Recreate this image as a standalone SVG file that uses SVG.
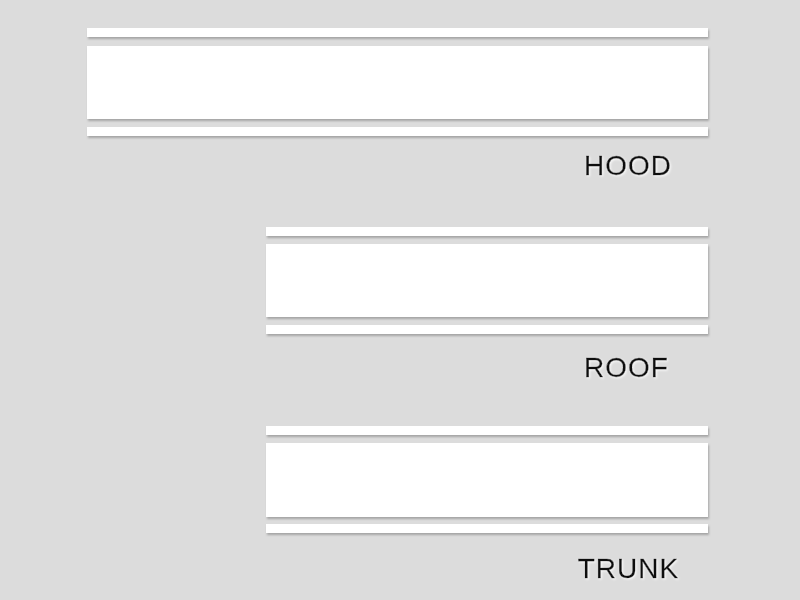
<svg xmlns="http://www.w3.org/2000/svg" width="800" height="600" viewBox="0 0 800 600">
<defs>
<filter id="sh" x="-5%" y="-50%" width="110%" height="200%">
<feDropShadow dx="1" dy="2" stdDeviation="1.2" flood-color="#000" flood-opacity="0.25"/>
</filter>
<filter id="tsh" x="-10%" y="-30%" width="120%" height="160%">
<feDropShadow dx="1" dy="1" stdDeviation="1" flood-color="#fff" flood-opacity="0.9"/>
</filter>
</defs>
<style>
.p{fill:#fff;filter:url(#sh)}
.lbl{font-family:"Liberation Sans",Arial,sans-serif;font-size:28px;letter-spacing:1px;fill:#111;stroke:#111;stroke-width:0.3;text-anchor:middle;filter:url(#tsh)}
</style>
<rect width="800" height="600" fill="#dcdcdc"/>
<g id="hood">
<rect class="p" x="87" y="28" width="621" height="9"/>
<rect class="p" x="87" y="46" width="621" height="73"/>
<rect class="p" x="87" y="127" width="621" height="9"/>
<text class="lbl" x="628" y="174.5">HOOD</text>
</g>
<g id="roof">
<rect class="p" x="266" y="227" width="442" height="9"/>
<rect class="p" x="266" y="244" width="442" height="73"/>
<rect class="p" x="266" y="325" width="442" height="9"/>
<text class="lbl" x="626.5" y="377">ROOF</text>
</g>
<g id="trunk">
<rect class="p" x="266" y="426" width="442" height="9"/>
<rect class="p" x="266" y="443" width="442" height="74"/>
<rect class="p" x="266" y="524" width="442" height="9"/>
<text class="lbl" x="628.5" y="578">TRUNK</text>
</g>
<g id="connectors"/>
</svg>
